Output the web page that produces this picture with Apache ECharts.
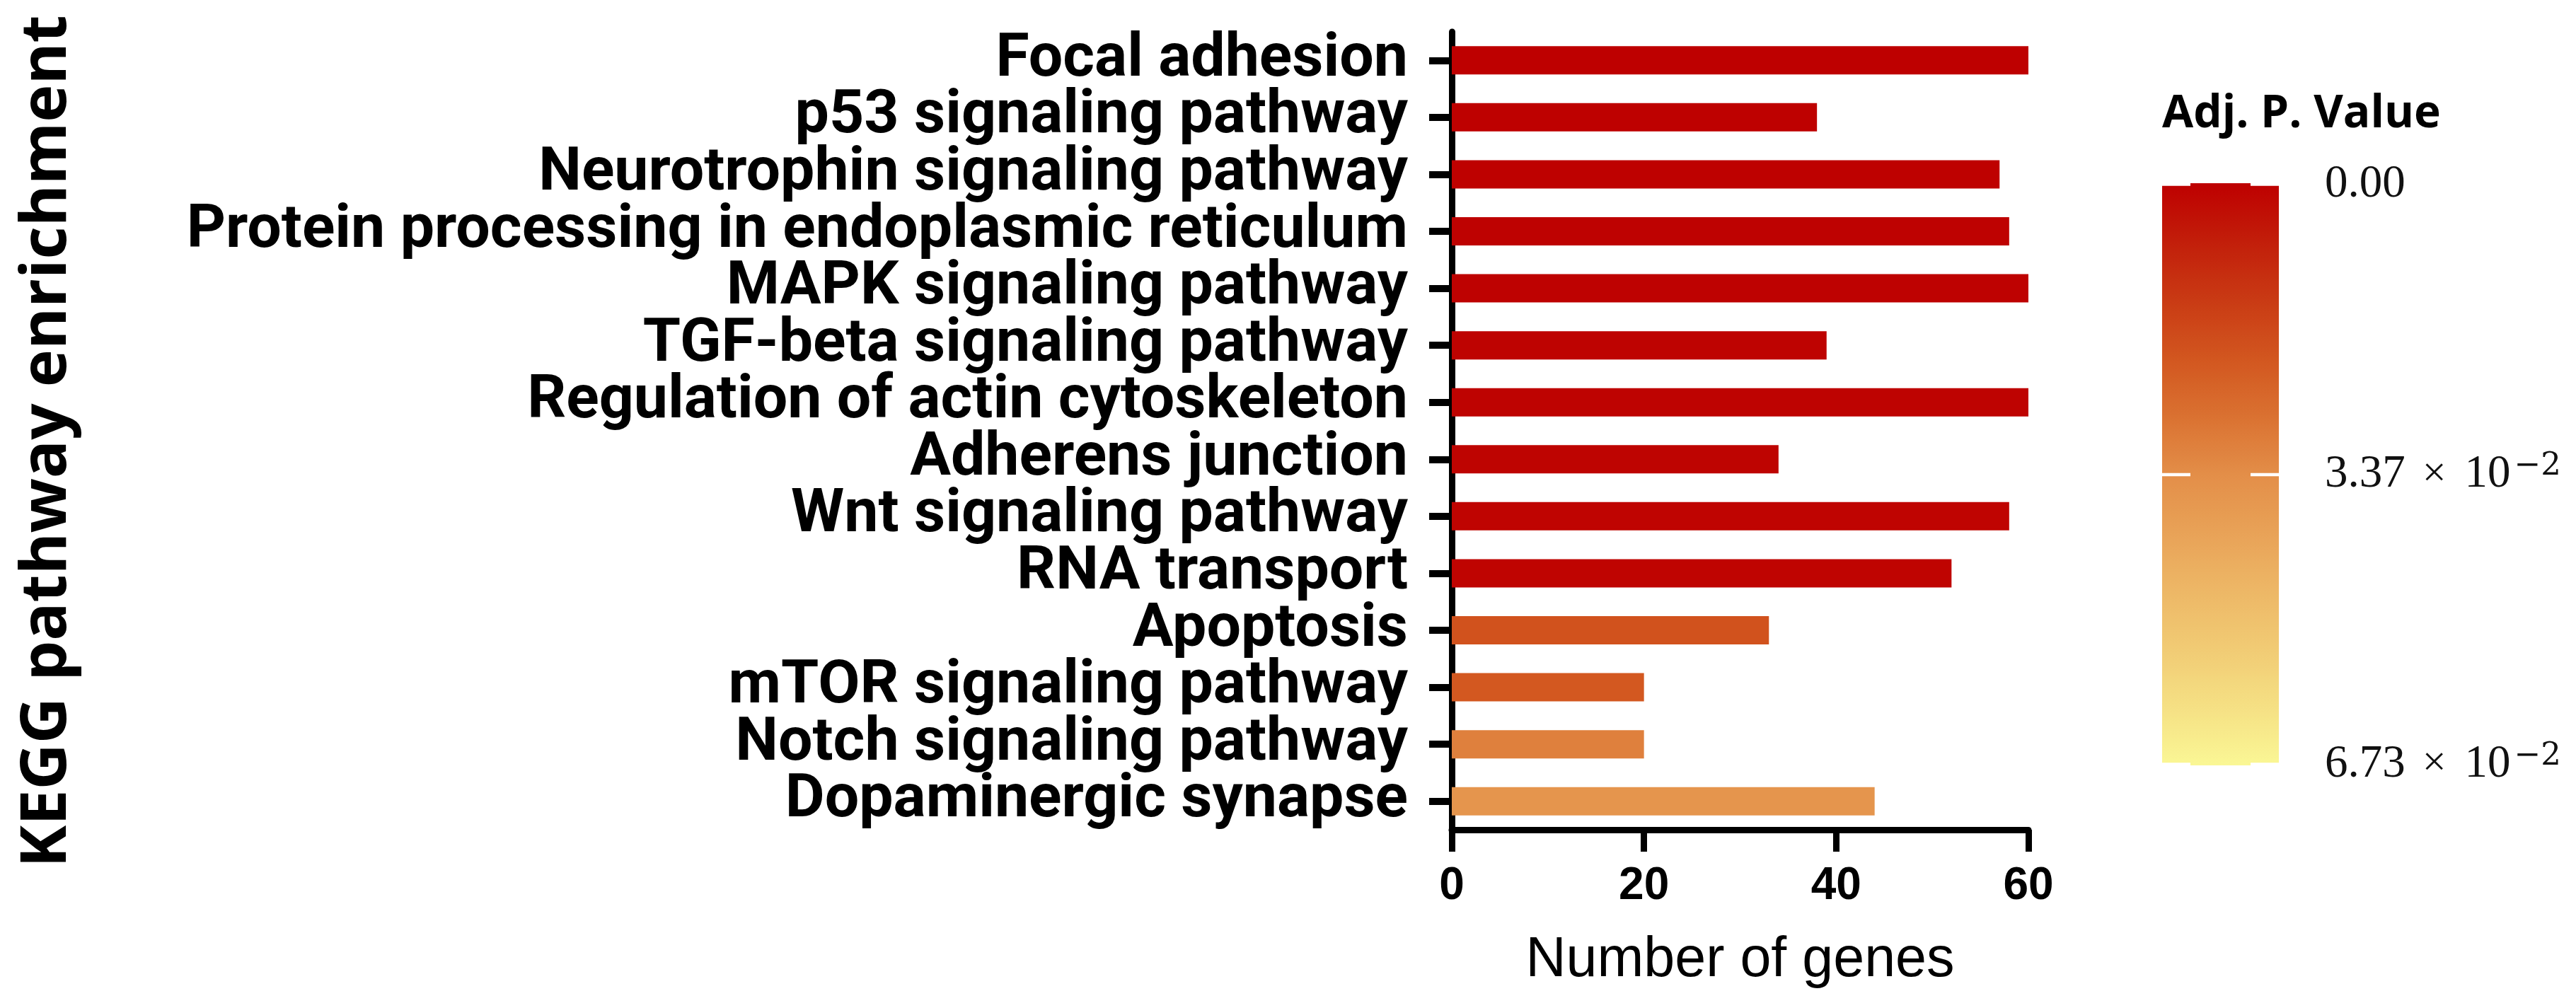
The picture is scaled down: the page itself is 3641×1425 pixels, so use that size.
<!DOCTYPE html>
<html>
<head>
<meta charset="utf-8">
<script src="https://cdn.jsdelivr.net/npm/echarts@6/dist/echarts.min.js"></script>
<style>
  html, body { margin: 0; padding: 0; background: #ffffff; }
  #chart { width: 3641px; height: 1425px; }
</style>
</head>
<body>
<div id="chart"></div>
<script>
// ---------------- DATA ----------------
const categories = [
  'Focal adhesion',
  'p53 signaling pathway',
  'Neurotrophin signaling pathway',
  'Protein processing in endoplasmic reticulum',
  'MAPK signaling pathway',
  'TGF-beta signaling pathway',
  'Regulation of actin cytoskeleton',
  'Adherens junction',
  'Wnt signaling pathway',
  'RNA transport',
  'Apoptosis',
  'mTOR signaling pathway',
  'Notch signaling pathway',
  'Dopaminergic synapse'
];
const geneCounts = [60, 38, 57, 58, 60, 39, 60, 34, 58, 52, 33, 20, 20, 44];
const adjPValues = [0.0001, 0.0002, 0.0003, 0.0004, 0.0005, 0.0006, 0.0007, 0.0008, 0.0009, 0.0010, 0.0192, 0.0207, 0.0303, 0.0360];
const xTicks = [0, 20, 40, 60];
const legendTickValues = [0, 0.0337, 0.0673];
const legendTickMantissa = ['0.00', '3.37', '6.73'];
const legendTickExponent = [null, '\u22122', '\u22122'];
const legendMin = 0;
const legendMax = 0.0673;
const gradientColors = ['#BE0000', '#C21E0A', '#C93A14', '#D2561F', '#DA7131', '#E38E48', '#E8A257', '#EDB766', '#F1CB74', '#F5E084', '#FAF795'];

// ---------------- CHART ----------------
const source = categories.map((c, i) => [c, geneCounts[i], adjPValues[i]]);

const gridLeft = 2052, gridTop = 45, gridWidth = 815, gridHeight = 1128;
const cbLeft = 3056, cbTop = 259, cbWidth = 165, cbHeight = 823;
const cbInnerTop = 260.5, cbInnerBottom = 1080.5;

function legendY(v) {
  return cbInnerTop + (v - legendMin) / (legendMax - legendMin) * (cbInnerBottom - cbInnerTop);
}

const graphics = [];
// Y-axis title
graphics.push({
  type: 'text', x: 67, y: 624, rotation: Math.PI / 2,
  style: { text: 'KEGG pathway enrichment', fontSize: 90, fontWeight: 'bold', fontFamily: '"Open Sans", "Liberation Sans", sans-serif',
           fill: '#000', align: 'center', verticalAlign: 'middle' }
});
// Legend title
graphics.push({
  type: 'text', x: cbLeft, y: 162,
  style: { text: 'Adj. P. Value', fontSize: 64, fontWeight: 'bold', fontFamily: '"Open Sans", "Liberation Sans", sans-serif',
           fill: '#000', align: 'left', verticalAlign: 'middle' }
});
// Legend ticks and labels
legendTickValues.forEach((v, i) => {
  const y = legendY(v);
  [[cbLeft, cbLeft + 40], [cbLeft + cbWidth - 40, cbLeft + cbWidth]].forEach(seg => {
    graphics.push({
      type: 'line', z: 100,
      shape: { x1: seg[0], y1: y, x2: seg[1], y2: y },
      style: { stroke: '#ffffff', lineWidth: 4.5 }
    });
  });
  const txt = legendTickExponent[i]
    ? '{m|' + legendTickMantissa[i] + '}{x|\u00D7}{m|10}{s|' + legendTickExponent[i] + '}'
    : '{m|' + legendTickMantissa[i] + '}';
  graphics.push({
    type: 'text', x: 3286, y: y,
    style: {
      text: txt, align: 'left', verticalAlign: 'middle', fill: '#111',
      rich: {
        m: { fontSize: 65, fontFamily: '"Liberation Serif", "DejaVu Serif", serif', fill: '#111', lineHeight: 68 },
        x: { fontSize: 60, fontFamily: '"Liberation Serif", "DejaVu Serif", serif', fill: '#111', lineHeight: 68, padding: [0, 26, 0, 24] },
        s: { fontSize: 45, fontFamily: '"DejaVu Serif", "Liberation Serif", serif', fill: '#111', lineHeight: 45, verticalAlign: 'top', padding: [0, 0, 0, 5] }
      }
    }
  });
});

const option = {
  backgroundColor: '#ffffff',
  animation: false,
  dataset: { source: source, dimensions: ['pathway', 'genes', 'padj'] },
  grid: { left: gridLeft, top: gridTop, width: gridWidth, height: gridHeight, containLabel: false },
  xAxis: {
    type: 'value', min: xTicks[0], max: xTicks[xTicks.length - 1], interval: 20,
    axisLine: { show: true, lineStyle: { color: '#000', width: 9 } },
    axisTick: { show: true, length: 31, lineStyle: { color: '#000', width: 9 } },
    splitLine: { show: false },
    axisLabel: { margin: 48, fontSize: 64, fontWeight: 'bold', fontFamily: '"Liberation Sans", Arial, sans-serif', color: '#000' },
    name: 'Number of genes', nameLocation: 'middle', nameGap: 146,
    nameTextStyle: { fontSize: 79, fontFamily: '"Liberation Sans", Arial, sans-serif', color: '#000' }
  },
  yAxis: {
    type: 'category', inverse: true, data: categories,
    axisLine: { show: true, lineStyle: { color: '#000', width: 9 } },
    axisTick: { show: true, alignWithLabel: true, length: 32, lineStyle: { color: '#000', width: 10 } },
    axisLabel: { margin: 62, fontSize: 86, fontWeight: 'bold', fontFamily: 'Roboto, "Liberation Sans", sans-serif', color: '#000', interval: 0 },
    splitLine: { show: false }
  },
  visualMap: {
    type: 'continuous', show: true, seriesIndex: 0, dimension: 2,
    min: legendMin, max: legendMax, inverse: true, orient: 'vertical',
    left: cbLeft, top: cbTop, itemWidth: cbWidth, itemHeight: cbHeight, padding: 0,
    calculable: false, hoverLink: false, text: null, showLabel: false,
    inRange: { color: gradientColors }
  },
  series: [{
    type: 'bar', barWidth: 40,
    encode: { x: 'genes', y: 'pathway' },
    itemStyle: { borderWidth: 0 }
  }],
  graphic: graphics
};

const chart = echarts.init(document.getElementById('chart'));
chart.setOption(option);
</script>
</body>
</html>
